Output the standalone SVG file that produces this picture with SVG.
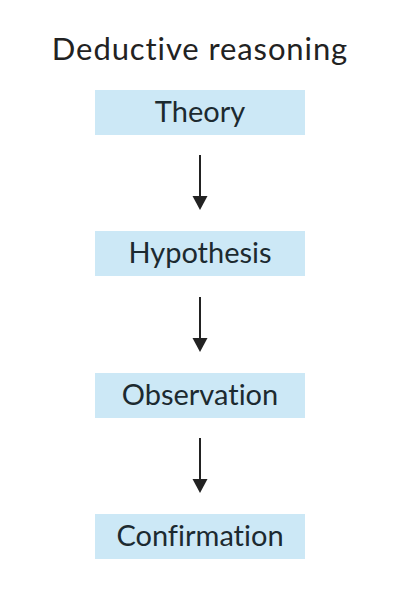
<svg xmlns="http://www.w3.org/2000/svg" width="400" height="592" viewBox="0 0 400 592">
<defs>
<style>
.box{fill:#cce8f6;}
.lbl{font-family:"Lato","Noto Sans",sans-serif;font-size:29px;fill:#1c2a30;text-anchor:middle;font-variant-ligatures:none;}
.title{font-family:"Lato","Noto Sans",sans-serif;font-size:31px;fill:#222;text-anchor:middle;font-variant-ligatures:none;letter-spacing:0.9px;}
.conn{stroke:#222;stroke-width:2;fill:none;}
</style>
</defs>
<rect width="400" height="592" fill="#ffffff"/>
<text class="title" x="200" y="59.5">Deductive reasoning</text>
<g id="theory"><rect class="box" x="95" y="90" width="210" height="45"/><text class="lbl" x="200" y="122">Theory</text></g>
<g id="hypothesis"><rect class="box" x="95" y="231" width="210" height="45"/><text class="lbl" x="200" y="263.3">Hypothesis</text></g>
<g id="observation"><rect class="box" x="95" y="373" width="210" height="45"/><text class="lbl" x="200" y="405">Observation</text></g>
<g id="confirmation"><rect class="box" x="95" y="514" width="210" height="45"/><text class="lbl" x="200" y="546.3">Confirmation</text></g>
<g id="connectors">
<line class="conn" x1="200" y1="155" x2="200" y2="198"/>
<path d="M192.5,196 L207.5,196 L200,210 z" fill="#222"/>
<line class="conn" x1="200" y1="297" x2="200" y2="340"/>
<path d="M192.5,338 L207.5,338 L200,352 z" fill="#222"/>
<line class="conn" x1="200" y1="438" x2="200" y2="481"/>
<path d="M192.5,479 L207.5,479 L200,493 z" fill="#222"/>
</g>
</svg>
